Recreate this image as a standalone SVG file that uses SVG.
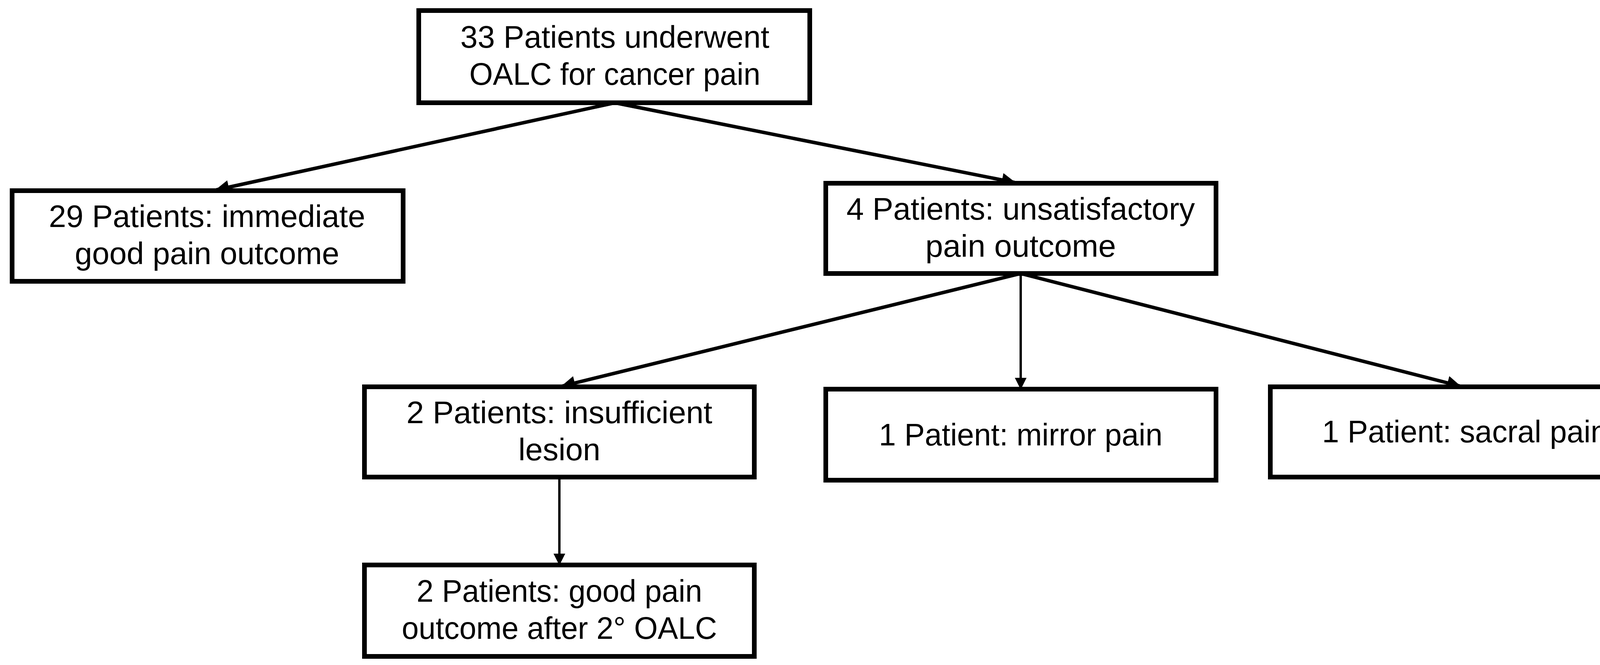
<svg xmlns="http://www.w3.org/2000/svg" width="4277" height="1702" viewBox="0 0 4277 1702">
<style>
.box{fill:#fff;stroke:#000;stroke-width:12}
.t{font-family:"Liberation Sans",Arial,sans-serif;font-size:80px;fill:#000;text-anchor:middle}
.c{stroke:#000;fill:none}
</style>
<defs>
<marker id="ah" viewBox="0 0 10 10" refX="9" refY="5" markerWidth="4" markerHeight="4" markerUnits="strokeWidth" orient="auto"><path d="M0,0L10,5L0,10z" fill="#000"/></marker>
<marker id="ah2" viewBox="0 0 10 10" refX="9" refY="5" markerWidth="5" markerHeight="5" markerUnits="strokeWidth" orient="auto"><path d="M0,0L10,5L0,10z" fill="#000"/></marker>
</defs>
<rect width="4277" height="1702" fill="#fff"/>
<g id="connectors">
<line class="c" stroke-width="9" x1="1574" y1="263" x2="554" y2="486" marker-end="url(#ah)"/>
<line class="c" stroke-width="9" x1="1574" y1="263" x2="2597" y2="467" marker-end="url(#ah)"/>
<line class="c" stroke-width="9" x1="2613" y1="700" x2="1440" y2="988" marker-end="url(#ah)"/>
<line class="c" stroke-width="6" x1="2613" y1="700" x2="2613" y2="994" marker-end="url(#ah2)"/>
<line class="c" stroke-width="9" x1="2613" y1="700" x2="3737" y2="988" marker-end="url(#ah)"/>
<line class="c" stroke-width="6" x1="1432" y1="1221" x2="1432" y2="1444" marker-end="url(#ah2)"/>
</g>
<g id="n1"><rect class="box" x="1072" y="27" width="1001" height="236"/>
<text class="t" x="1574" y="122" textLength="791" lengthAdjust="spacingAndGlyphs">33 Patients underwent</text>
<text class="t" x="1574" y="217" textLength="745" lengthAdjust="spacingAndGlyphs">OALC for cancer pain</text></g>
<g id="n2"><rect class="box" x="31" y="488" width="1001" height="232"/>
<text class="t" x="530" y="581" textLength="810" lengthAdjust="spacingAndGlyphs">29 Patients: immediate</text>
<text class="t" x="530" y="676" textLength="677" lengthAdjust="spacingAndGlyphs">good pain outcome</text></g>
<g id="n3"><rect class="box" x="2114" y="469" width="999" height="231"/>
<text class="t" x="2613" y="562" textLength="892" lengthAdjust="spacingAndGlyphs">4 Patients: unsatisfactory</text>
<text class="t" x="2613" y="657" textLength="488" lengthAdjust="spacingAndGlyphs">pain outcome</text></g>
<g id="n4"><rect class="box" x="933" y="990" width="998" height="231"/>
<text class="t" x="1432" y="1083" textLength="783" lengthAdjust="spacingAndGlyphs">2 Patients: insufficient</text>
<text class="t" x="1432" y="1178" textLength="210" lengthAdjust="spacingAndGlyphs">lesion</text></g>
<g id="n5"><rect class="box" x="2114" y="996" width="999" height="233"/>
<text class="t" x="2613" y="1140" textLength="726" lengthAdjust="spacingAndGlyphs">1 Patient: mirror pain</text></g>
<g id="n6"><rect class="box" x="3252" y="990" width="996" height="231"/>
<text class="t" x="3750" y="1132" textLength="731" lengthAdjust="spacingAndGlyphs">1 Patient: sacral pain</text></g>
<g id="n7"><rect class="box" x="933" y="1446" width="998" height="234"/>
<text class="t" x="1432" y="1540" textLength="731" lengthAdjust="spacingAndGlyphs">2 Patients: good pain</text>
<text class="t" x="1432" y="1635" textLength="807" lengthAdjust="spacingAndGlyphs">outcome after 2° OALC</text></g>
</svg>
